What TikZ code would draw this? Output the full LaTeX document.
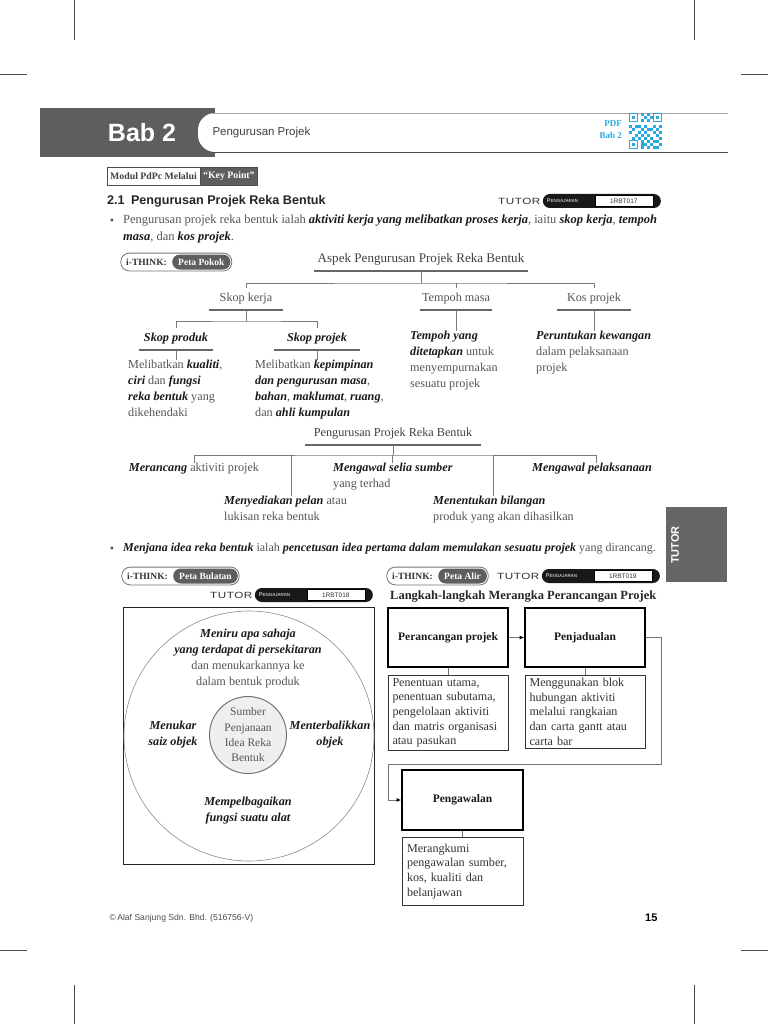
\documentclass[tikz,border=0pt]{standalone}
\usepackage{fontspec}
\setmainfont{Liberation Serif}
\setsansfont{Liberation Sans}
\newfontfamily\tutorfont[LetterSpace=6,FakeStretch=1.3]{Liberation Sans}
\usetikzlibrary{arrows.meta, positioning, fit}

\definecolor{bodygrey}{HTML}{555555}
\definecolor{inkblack}{HTML}{1A1A1A}
\definecolor{bandgrey}{HTML}{5E5E5E}
\definecolor{tabgrey}{HTML}{666666}
\definecolor{linegrey}{HTML}{7A7A7A}
\definecolor{qrblue}{HTML}{2AA9E0}
\definecolor{fillgrey}{HTML}{EFEFEF}

\newcommand{\kw}[1]{{\color{inkblack}\bfseries\itshape #1}}
\newcommand{\bodyfont}{\fontsize{12.2}{16}\selectfont}

\tikzset{%
>={Latex[width=4pt,length=4.5pt,color=black]},
  % Specifications for style of nodes:
            body/.style = {font=\bodyfont, text=bodygrey, inner sep=0pt, align=left},
            head/.style = {font=\bodyfont, text=bodygrey, anchor=south, text height=8pt,
                            text depth=2.5pt, inner ysep=5.5pt, inner xsep=0pt},
            uline/.style = {draw=black!60, line width=1.8pt},
            tline/.style = {draw=linegrey, line width=0.9pt},
            cmtext/.style = {font=\fontsize{12.2}{16}\selectfont, text=bodygrey, inner sep=0pt, align=center},
            stepbox/.style = {draw=black, line width=1.8pt, minimum width=120pt, minimum height=59pt,
                            font=\bfseries\fontsize{11.5}{14}\selectfont, text=inkblack},
            descbox/.style = {draw=black!80, line width=0.7pt, minimum width=120pt, text width=111pt,
                            inner xsep=4.5pt, inner ysep=3pt, align=left, anchor=north,
                            font=\fontsize{12.1}{14.6}\selectfont, text=black!80},
            flow/.style = {draw=black!55, line width=0.8pt},
            cropmark/.style = {draw=black!70, line width=1pt},
            thinkword/.style = {font=\bfseries\fontsize{9.5}{11}\selectfont, text=black!80, inner xsep=4pt, inner ysep=2.5pt},
            thinkpill/.style = {fill=bandgrey, text=white, rounded corners=7.5pt, minimum height=15pt,
                            font=\bfseries\fontsize{9.5}{11}\selectfont, inner xsep=6pt, inner ysep=0pt},
            thinkframe/.style = {draw=black!55, line width=0.8pt, rounded corners=8.5pt, inner sep=1.2pt},
            tutorword/.style = {font=\tutorfont\fontsize{9}{10}\selectfont, text=black!80, inner sep=0pt},
            tutorbar/.style = {fill=black!90, rounded corners=7pt, minimum width=118pt, minimum height=14pt, inner sep=0pt},
            tutorcode/.style = {fill=white, draw=black, line width=0.5pt, minimum width=58pt, minimum height=11pt,
                            inner sep=0pt, font=\sffamily\fontsize{6.5}{7}\selectfont, text=black!80},
            tutorlabel/.style = {font=\sffamily\fontsize{5.5}{6}\selectfont, text=white, inner sep=0pt},
            keybox/.style = {draw=black!70, minimum height=18pt, inner xsep=3pt, inner ysep=0pt,
                            font=\bfseries\fontsize{9.8}{11}\selectfont}
}

\newcommand{\ithinkbadge}[4]{% name, x, y, label
  \node[thinkword, anchor=west] (#1w) at (#2,#3) {i-THINK:};
  \node[thinkpill, right=1pt of #1w] (#1p) {#4};
  \node[thinkframe, fit=(#1w)(#1p)] (#1f) {};
}
\newcommand{\tutorbadge}[4]{% name, x, y, code
  \node[tutorword, anchor=west] (#1w) at (#2,#3) {TUTOR};
  \node[tutorbar, right=2pt of #1w] (#1b) {};
  \node[tutorcode, left=8pt of #1b.east] (#1c) {#4};
  \node[tutorlabel, right=4pt of #1b.west] (#1l) {P{\fontsize{4.5}{5}\selectfont ENGAJARAN}};
}

\begin{document}
\begin{tikzpicture}[x=1pt, y=-1pt]
\useasboundingbox (0,0) rectangle (768,1024);
\fill[white] (0,0) rectangle (768,1024);

% crop marks
\draw[cropmark] (74,0) -- (74,40);
\draw[cropmark] (694,0) -- (694,40);
\draw[cropmark] (0,75) -- (27,75);
\draw[cropmark] (741,75) -- (768,75);
\draw[cropmark] (0,950) -- (27,950);
\draw[cropmark] (741,950) -- (768,950);
\draw[cropmark] (74,985) -- (74,1024);
\draw[cropmark] (694,985) -- (694,1024);

% header
\fill[bandgrey] (40,108) rectangle (215,157);
\fill[white] (728,113) -- (215,113) {[rounded corners=17pt] -- (198,113) -- (198,152)} -- (215,152) -- (728,152) -- cycle;
\draw[black!35, line width=0.8pt] (212,113) -- (728,113);
\draw[black!70, line width=1.8pt] (212,152.5) -- (728,152.5);
\node[font=\sffamily\bfseries\fontsize{25}{28}\selectfont, text=white] (bab) at (142,133) {Bab 2};
\node[font=\sffamily\fontsize{11.5}{13}\selectfont, text=black!75, anchor=west] (bab title) at (209,133) {Pengurusan Projek};
\node[font=\bfseries\fontsize{9}{12}\selectfont, text=qrblue, anchor=east, align=right, inner sep=0pt] (pdf) at (622,130) {PDF\\Bab 2};
\foreach \qx/\qy in {629/113, 653/113, 629/140} {
  \draw[qrblue, line width=1.2pt] (\qx+0.6,\qy+0.6) rectangle ++(7.8,7.8);
  \fill[qrblue] (\qx+3,\qy+3) rectangle ++(3,3);
}
\foreach \mx/\my in {4/0,6/0,5/1,7/1,4/2,6/2,0/4,2/4,3/4,5/4,8/4,10/4,1/5,4/5,6/5,7/5,9/5,
                     0/6,3/6,5/6,8/6,10/6,2/7,4/7,6/7,9/7,1/8,3/8,5/8,7/8,10/8,4/9,6/9,8/9,
                     9/9,4/10,5/10,7/10,10/10,4/11,6/11,8/11,9/11}
  \fill[qrblue] (629+\mx*3,113+\my*3) rectangle ++(3,3);

\node[keybox, fill=white, text=black!75, anchor=west] (modul) at (107,176) {Modul PdPc Melalui};
\node[keybox, fill=bandgrey, text=white, right=0pt of modul] (keypoint) {“Key Point”};

% 2.1
\node[font=\sffamily\bfseries\fontsize{12.6}{14}\selectfont, text=black!85, anchor=west, inner sep=0pt] (sec) at (107,201) {2.1\enspace Pengurusan Projek Reka Bentuk};
\tutorbadge{tutora}{498}{201}{1RBT017}
\node[body] (dota) at (112,222) {•};
\node[body, font=\fontsize{12.5}{16.5}\selectfont, anchor=north west] (bulleta) at (123,215) {Pengurusan projek reka bentuk ialah \kw{aktiviti kerja yang melibatkan proses kerja}, iaitu \kw{skop kerja}, \kw{tempoh}\\ \kw{masa}, dan \kw{kos projek}.};

% peta pokok
\ithinkbadge{pokok}{122}{262}{Peta Pokok}
\node[head, font=\fontsize{13.1}{15}\selectfont, text=black!75, minimum width=213pt] (aspek) at (421,271) {Aspek Pengurusan Projek Reka Bentuk};
\draw[uline] (aspek.south west) -- (aspek.south east);
\coordinate (ja) at (421,283);
\node[head, minimum width=74pt] (skopkerja) at (246,310) {Skop kerja};
\node[head, minimum width=72pt] (tempoh) at (456,310) {Tempoh masa};
\node[head, minimum width=74pt] (kos) at (594,310) {Kos projek};
\draw[uline] (skopkerja.south west) -- (skopkerja.south east);
\draw[uline] (tempoh.south west) -- (tempoh.south east);
\draw[uline] (kos.south west) -- (kos.south east);
\draw[tline] (aspek.south) -- (ja);
\draw[tline] (skopkerja.north) |- (ja) -| (kos.north);
\draw[tline] (tempoh.north) -- (tempoh.north |- ja);

\coordinate (jb) at (246,321);
\node[head, minimum width=74pt] (skopproduk) at (176,350) {\kw{Skop produk}};
\node[head, minimum width=85pt] (skopprojek) at (317,350) {\kw{Skop projek}};
\draw[uline] (skopproduk.south west) -- (skopproduk.south east);
\draw[uline] (skopprojek.south west) -- (skopprojek.south east);
\draw[tline] (skopkerja.south) -- (jb);
\draw[tline] (skopproduk.north) |- (jb) -| (skopprojek.north);

\node[body, anchor=north west] (descproduk) at (128,360) {Melibatkan \kw{kualiti},\\ \kw{ciri} dan \kw{fungsi}\\ \kw{reka bentuk} yang\\ dikehendaki};
\node[body, anchor=north west] (descprojek) at (255,360) {Melibatkan \kw{kepimpinan}\\ \kw{dan pengurusan masa},\\ \kw{bahan}, \kw{maklumat}, \kw{ruang},\\ dan \kw{ahli kumpulan}};
\node[body, anchor=north west] (desctempoh) at (410,331) {\kw{Tempoh yang}\\ \kw{ditetapkan} untuk\\ menyempurnakan\\ sesuatu projek};
\node[body, anchor=north west] (desckos) at (536,331) {\kw{Peruntukan kewangan}\\ dalam pelaksanaan\\ projek};
\draw[tline] (skopproduk.south) -- (skopproduk.south |- descproduk.north);
\draw[tline] (skopprojek.south) -- (skopprojek.south |- descprojek.north);
\draw[tline] (tempoh.south) -- (tempoh.south |- desctempoh.north);
\draw[tline] (kos.south) -- (kos.south |- desckos.north);

% second tree
\node[head, text=black!75, minimum width=176pt] (urus) at (393,445) {Pengurusan Projek Reka Bentuk};
\draw[uline] (urus.south west) -- (urus.south east);
\coordinate (jc) at (393,455);
\node[body, anchor=north] (merancang) at (194,463) {\kw{Merancang} aktiviti projek};
\node[body, anchor=north west] (mengawal) at (333,463) {\kw{Mengawal selia sumber}\\ yang terhad};
\node[body, anchor=north east] (pelaksanaan) at (652,463) {\kw{Mengawal pelaksanaan}};
\node[body, anchor=north west] (menyediakan) at (224,496) {\kw{Menyediakan pelan} atau\\ lukisan reka bentuk};
\node[body, anchor=north west] (menentukan) at (433,496) {\kw{Menentukan bilangan}\\ produk yang akan dihasilkan};
\draw[tline] (urus.south) -- (jc);
\draw[tline] (merancang.north) |- (jc) -| ([xshift=4pt]pelaksanaan.north);
\draw[tline] (mengawal.north) -- (mengawal.north |- jc);
\draw[tline] ([xshift=6pt]menyediakan.north) -- ([xshift=6pt]menyediakan.north |- jc);
\draw[tline] ([xshift=-10pt]menentukan.north) -- ([xshift=-10pt]menentukan.north |- jc);

% side tab
\fill[tabgrey] (666,507) rectangle (727,582);
\node[rotate=90, font=\sffamily\bfseries\fontsize{11}{12}\selectfont, text=white] (tabtext) at (675,545) {TUTOR};

% menjana idea
\node[body] (dotb) at (112,550) {•};
\node[body, font=\fontsize{12}{16}\selectfont, anchor=north west] (bulletb) at (123,543) {\kw{Menjana idea reka bentuk} ialah \kw{pencetusan idea pertama dalam memulakan sesuatu projek} yang dirancang.};

\ithinkbadge{bulatan}{123}{576}{Peta Bulatan}
\tutorbadge{tutorb}{210}{595}{1RBT018}
\ithinkbadge{alir}{388}{576}{Peta Alir}
\tutorbadge{tutorc}{497}{576}{1RBT019}

% peta bulatan
\draw[black!85, line width=0.9pt] (123,607) rectangle (374,864);
\node[circle, draw=black!45, line width=0.6pt, minimum size=250pt, inner sep=0pt] (outer) at (249,736) {};
\node[circle, draw=black!55, fill=fillgrey, line width=1pt, minimum size=77pt, inner sep=0pt] (core) at (248,735) {};
\node[cmtext, font=\fontsize{11.5}{15.3}\selectfont] (coretext) at (248,735) {Sumber\\Penjanaan\\Idea Reka\\Bentuk};
\node[cmtext] (meniru) at (248,659) {\kw{Meniru apa sahaja}\\ \kw{yang terdapat di persekitaran}\\ dan menukarkannya ke\\ dalam bentuk produk};
\node[cmtext] (saiz) at (173,735) {\kw{Menukar}\\ \kw{saiz objek}};
\node[cmtext] (balik) at (330,735) {\kw{Menterbalikkan}\\ \kw{objek}};
\node[cmtext] (fungsi) at (248,811) {\kw{Mempelbagaikan}\\ \kw{fungsi suatu alat}};

% peta alir
\node[font=\bfseries\fontsize{12.5}{14}\selectfont, text=black!85, anchor=west, inner sep=0pt] (langkah) at (390,597) {Langkah-langkah Merangka Perancangan Projek};
\node[stepbox] (rancang) at (448,637.5) {Perancangan projek};
\node[stepbox] (jadual) at (585,637.5) {Penjadualan};
\node[stepbox, minimum width=121pt, minimum height=60pt] (kawal) at (462.5,800) {Pengawalan};
\node[descbox, minimum height=73pt] (rancangdesc) at (448,675) {Penentuan utama,\\ penentuan subutama,\\ pengelolaan aktiviti\\ dan matris organisasi\\ atau pasukan};
\node[descbox, minimum height=73pt] (jadualdesc) at (585,675) {Menggunakan blok\\ hubungan aktiviti\\ melalui rangkaian\\ dan carta gantt atau\\ carta bar};
\node[descbox, minimum width=121pt, minimum height=68pt] (kawaldesc) at (462.5,837) {Merangkumi\\ pengawalan sumber,\\ kos, kualiti dan\\ belanjawan};
\draw[flow, ->] (rancang) -- (jadual);
\draw[flow] (rancang.south) -- (rancangdesc.north);
\draw[flow] (jadual.south) -- (jadualdesc.north);
\draw[flow] (kawal.south) -- (kawaldesc.north);
\coordinate (loopa) at (661,764);
\coordinate (loopb) at (388,764);
\draw[flow, ->] (jadual.east) -| (loopa) -- (loopb) |- (kawal.west);

% footer
\node[font=\sffamily\fontsize{8.6}{10}\selectfont, text=black!70, anchor=west] (copy) at (106,918) {\textcopyright\,Alaf Sanjung Sdn. Bhd. (516756-V)};
\node[font=\sffamily\bfseries\fontsize{11}{12}\selectfont, anchor=east] (pageno) at (661,918) {15};
\end{tikzpicture}
\end{document}
